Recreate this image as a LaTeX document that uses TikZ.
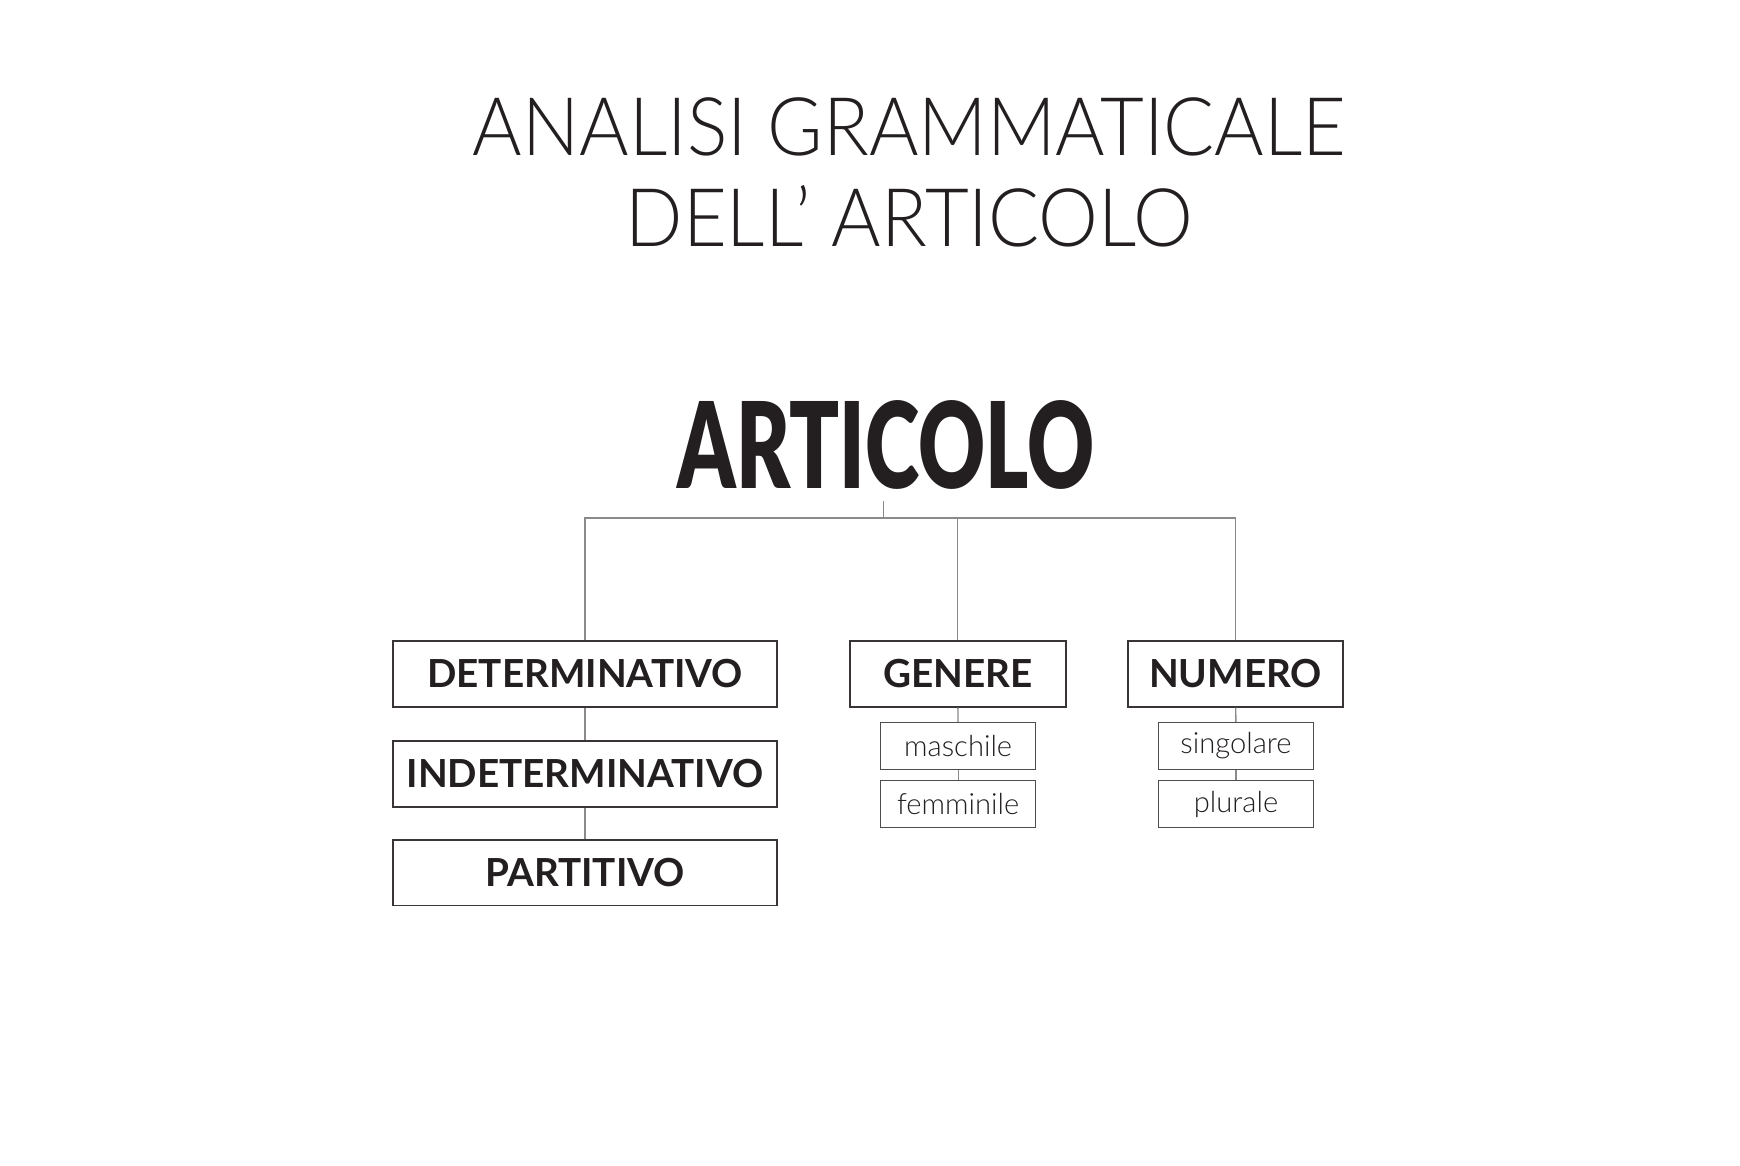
\documentclass[tikz,border=0pt]{standalone}
\usepackage{fontspec}
\setmainfont{Lato}
\newfontfamily\lightfont{Lato Light}
\newfontfamily\blackfont{Lato Black}
\usepackage{xcolor}
\usepackage{tikz}
\definecolor{ink}{HTML}{231F20}
\definecolor{wire}{HTML}{8A8A8A}

\begin{document}
\begin{tikzpicture}
	\useasboundingbox[fill=white] (0, 0) rectangle (17.4, -11.66);

	\node[anchor=base, text=ink, font=\lightfont\fontsize{23}{26}\selectfont] (T1) at (9.095, -1.551) {\scalebox{0.935}[1]{ANALISI GRAMMATICALE}};
	\node[anchor=base, text=ink, font=\lightfont\fontsize{23}{26}\selectfont] (T2) at (9.095, -2.465) {\scalebox{0.935}[1]{DELL’ ARTICOLO}};

	\begin{scope}[
		box/.style={draw=ink!90, line width=0.55pt, text=ink, minimum height=0.656cm, inner sep=0pt, font=\bfseries\fontsize{11}{13}\selectfont},
		subbox/.style={draw=ink!80, line width=0.4pt, text=ink, minimum width=1.551cm, minimum height=0.467cm, inner sep=0pt, font=\lightfont\fontsize{8.3}{10}\selectfont},
		link/.style={draw=wire, line width=0.4pt}]
		\node[text=ink, font=\blackfont\fontsize{34}{34}\selectfont] (A) at (8.86, -4.453) {\scalebox{0.69}[1]{ARTICOLO}};

		\node[box, minimum width=3.847cm] (D1) at (5.85, -6.739) {DETERMINATIVO};
		\node[box, minimum width=3.847cm] (D2) at (5.85, -7.738) {INDETERMINATIVO};
		\node[box, minimum width=3.847cm] (D3) at (5.85, -8.727) {PARTITIVO};

		\node[box, minimum width=2.157cm] (G) at (9.577, -6.739) {GENERE};
		\node[subbox] (G1) at (9.582, -7.46) {maschile};
		\node[subbox] (G2) at (9.582, -8.041) {femminile};

		\node[box, minimum width=2.147cm] (N) at (12.355, -6.739) {NUMERO};
		\node[subbox] (N1) at (12.36, -7.46) {singolare};
		\node[subbox] (N2) at (12.36, -8.041) {plurale};

		\coordinate (S) at (8.837, -5.01);
		\coordinate (H) at (8.837, -5.179);
	\end{scope}

	\draw[draw=wire, line width=0.4pt] (S) -- (H);
	\draw[draw=wire, line width=0.4pt] (D1.north) |- (H) -| (N.north);
	\draw[draw=wire, line width=0.4pt] (G.north) -- (G.north |- H);
	\draw[draw=wire, line width=0.4pt] (D1) edge (D2) (D2) edge (D3);
	\draw[draw=wire, line width=0.4pt] (G) edge (G1) (G1) edge (G2);
	\draw[draw=wire, line width=0.4pt] (N) edge (N1) (N1) edge (N2);
\end{tikzpicture}
\end{document}
